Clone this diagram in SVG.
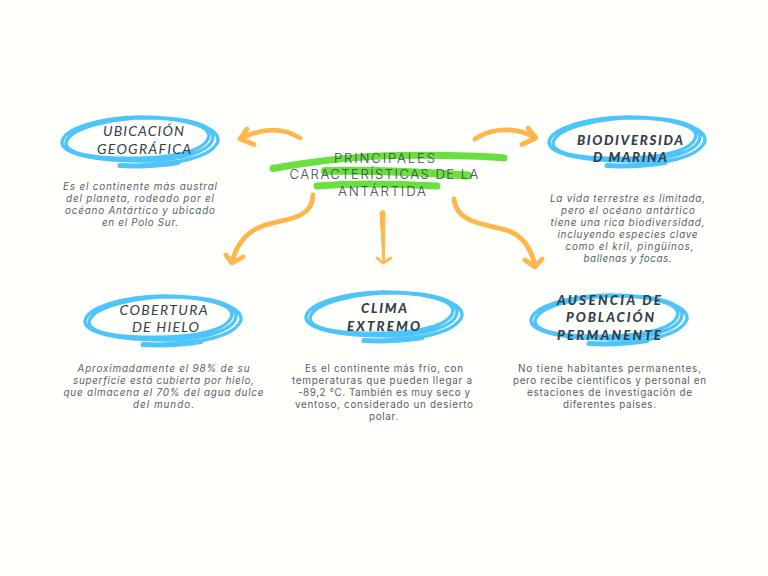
<svg xmlns="http://www.w3.org/2000/svg" width="768" height="576" viewBox="0 0 768 576">
<style>
text{font-family:"Inter","Liberation Sans",sans-serif;fill:#565e69;font-size:9.900px;text-anchor:start}
.i{font-style:italic}
.h{font-family:"Lato","Liberation Sans",sans-serif;font-size:14px;font-style:italic;fill:#333e4b}
.b{font-weight:900;font-size:13.300px}
.t{font-size:13.200px;fill:#3f4957;font-weight:300}
.s{fill:none;stroke:#4dc4fb;stroke-width:3.400;stroke-linecap:round;stroke-linejoin:round}
.tail{fill:none;stroke:#4dc4fb;stroke-width:5;stroke-linecap:round}
.a{fill:none;stroke:#ffb64d;stroke-width:4.800;stroke-linecap:round;stroke-linejoin:round}
.g{fill:none;stroke:#69e03f;stroke-linecap:round}
</style>
<defs>
<g id="sc">
<path class="s" d="M82 50C115 49 152 43 158 26C160 11 120 2 80 2C40 3 4 13 2 27C1 40 40 46 80 46C115 46 152 38 153 22C154 10 125 3 95 3C60 2 9 11 6 28C6 42 50 44 85 43C120 42 148 34 149 20C147 8 110 2 80 3"/>
<path class="tail" d="M60 50.500C80 51.500 100 50.500 118 47.500"/>
</g>
</defs>
<rect width="768" height="576" fill="#fffffb"/>
<g id="connectors">
<path class="a" d="M300 138C282 127 262 128 241 138.500M247 129L240 139L254 144.500"/>
<path class="a" d="M475 139C492 127 518 127 535 138M528 128L536 138L522 144.500"/>
<path class="a" d="M313 195C312 226 272 216 251 232C240 240 235 250 232 262M226 255L232 263L243 257"/>
<path d="M380 213C381 210 385 210 385 213L384.500 262L383 262Z" fill="#ffb64d" stroke="#ffb64d" stroke-width="1"/>
<path class="a" style="stroke-width:2.800" d="M377 258L383 263L391 258"/>
<path class="a" d="M454 199C456 224 488 224 509 231C524 237 532 251 535 266M525 260L535 267L542 259"/>
</g>
<g id="central">
<path class="g" stroke-width="7" d="M273 168.500C315 161 355 156 400 155.500C440 155 480 156 504 158"/>
<path class="g" stroke-width="8" d="M325 171C370 170 420 172 468 175.500"/>
<path class="g" stroke-width="7" d="M317 186C350 183 400 184 437 186"/>
<text class="t" x="334" y="163" textLength="101">PRINCIPALES</text>
<text class="t" x="289.500" y="179" textLength="189">CARACTERÍSTICAS DE LA</text>
<text class="t" x="338" y="195.500" textLength="88">ANTÁRTIDA</text>
</g>
<g id="ubicacion">
<use href="#sc" x="60" y="115"/>
<text class="h" x="103" y="136" textLength="81">UBICACIÓN</text>
<text class="h" x="97" y="154" textLength="94">GEOGRÁFICA</text>
<text class="i" x="63" y="190" textLength="154">Es el continente más austral</text>
<text class="i" x="66" y="202" textLength="148">del planeta, rodeado por el</text>
<text class="i" x="65" y="214" textLength="150">océano Antártico y ubicado</text>
<text class="i" x="102" y="226" textLength="76">en el Polo Sur.</text>
</g>
<g id="biodiversidad">
<use href="#sc" x="547" y="115"/>
<text class="h b" x="577" y="145" textLength="106">BIODIVERSIDA</text>
<text class="h b" x="593" y="162" textLength="74">D MARINA</text>
<text class="i" x="550" y="202" textLength="155">La vida terrestre es limitada,</text>
<text class="i" x="561" y="214" textLength="134">pero el océano antártico</text>
<text class="i" x="550.500" y="226" textLength="154">tiene una rica biodiversidad,</text>
<text class="i" x="557.500" y="238" textLength="140">incluyendo especies clave</text>
<text class="i" x="565.500" y="250" textLength="128">como el kril, pingüinos,</text>
<text class="i" x="583.500" y="262" textLength="88">ballenas y focas.</text>
</g>
<g id="cobertura">
<use href="#sc" x="83" y="294"/>
<text class="h" x="119.500" y="315" textLength="88">COBERTURA</text>
<text class="h" x="132" y="332" textLength="67">DE HIELO</text>
<text class="i" x="77.500" y="372" textLength="172">Aproximadamente el 98% de su</text>
<text class="i" x="73" y="384" textLength="181">superficie está cubierta por hielo,</text>
<text class="i" x="63.500" y="396" textLength="200">que almacena el 70% del agua dulce</text>
<text class="i" x="133" y="408" textLength="61">del mundo.</text>
</g>
<g id="clima">
<use href="#sc" x="304" y="290"/>
<text class="h b" x="361" y="313" textLength="46">CLIMA</text>
<text class="h b" x="347" y="331" textLength="73">EXTREMO</text>
<text x="305" y="372" textLength="158">Es el continente más frío, con</text>
<text x="292" y="384" textLength="180">temperaturas que pueden llegar a</text>
<text x="298" y="396" textLength="172">-89,2 °C. También es muy seco y</text>
<text x="295" y="408" textLength="178">ventoso, considerado un desierto</text>
<text x="369" y="420" textLength="29">polar.</text>
</g>
<g id="ausencia">
<use href="#sc" x="529" y="293"/>
<text class="h b" x="557" y="305" textLength="104">AUSENCIA DE</text>
<text class="h b" x="566" y="322" textLength="88">POBLACIÓN</text>
<text class="h b" x="557" y="340" textLength="104">PERMANENTE</text>
<text x="518" y="372" textLength="183">No tiene habitantes permanentes,</text>
<text x="513" y="384" textLength="193">pero recibe científicos y personal en</text>
<text x="527" y="396" textLength="165">estaciones de investigación de</text>
<text x="563" y="408" textLength="93">diferentes países.</text>
</g>
</svg>
